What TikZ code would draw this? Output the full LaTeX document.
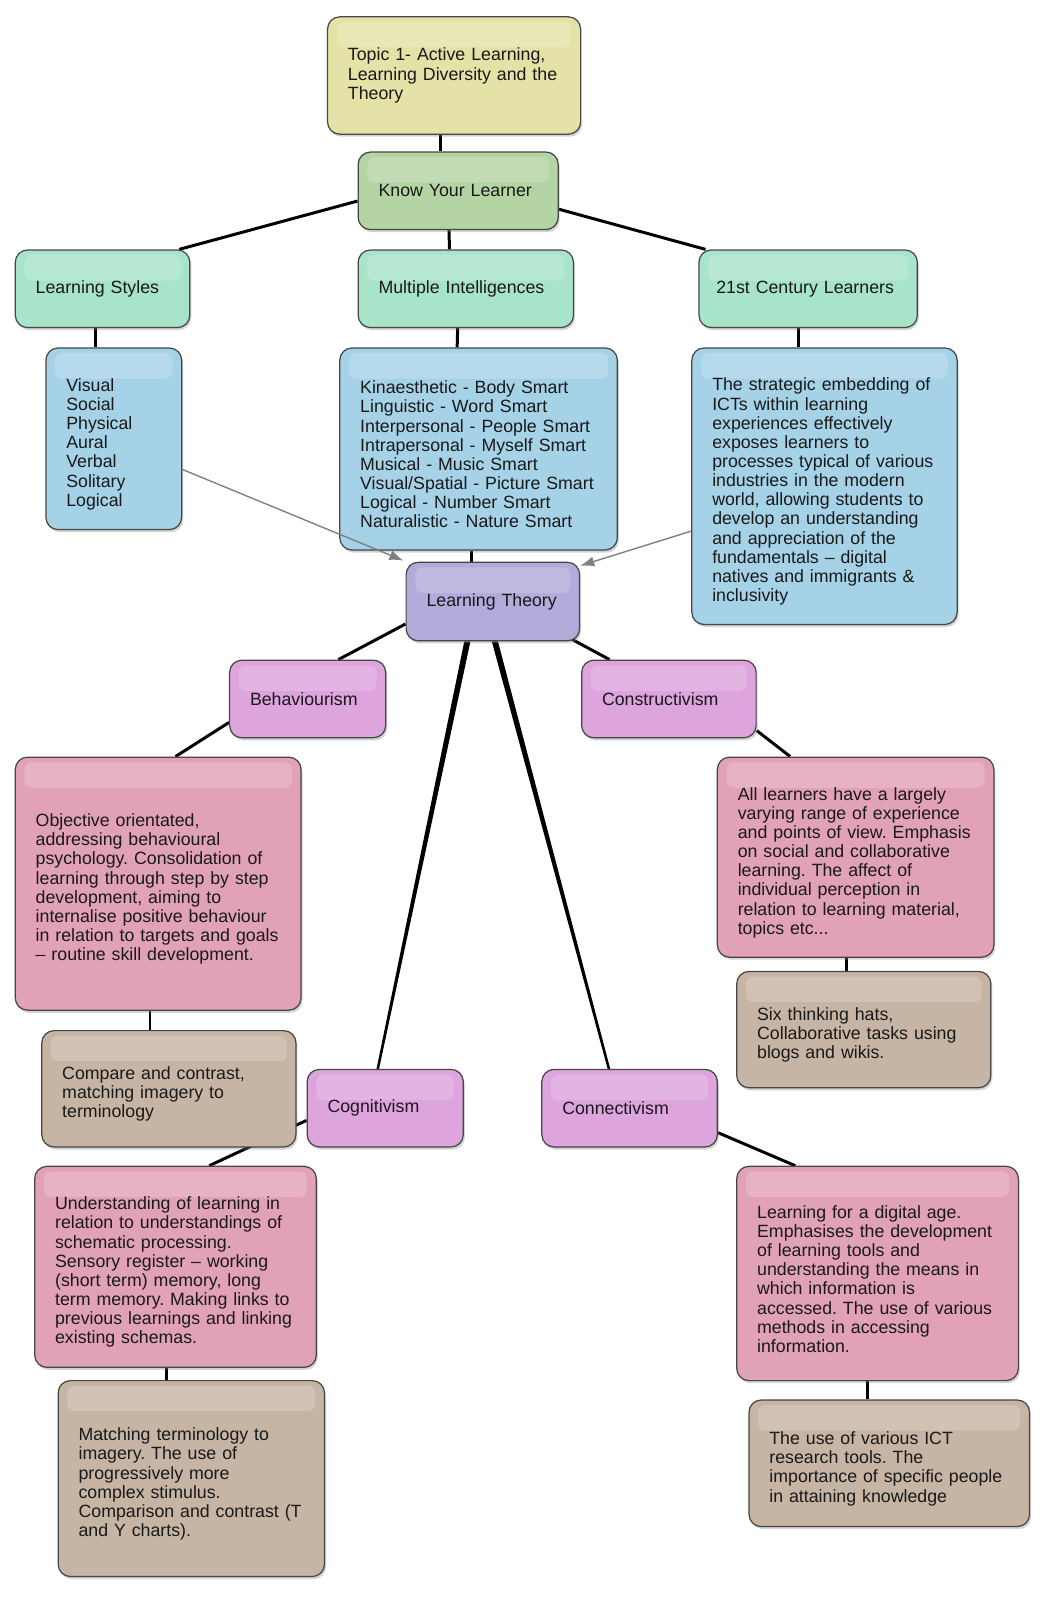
\documentclass[tikz,border=0pt]{standalone}
\usepackage{fontspec}
\setmainfont{Liberation Sans}
\usetikzlibrary{arrows.meta,calc,shadows,backgrounds}
\usepackage{xcolor}

\newlength{\pxl}
\setlength{\pxl}{0.020408cm}
\frenchspacing

\definecolor{topicyellow}{HTML}{E4E2A6}
\definecolor{knowgreen}{HTML}{B4D4A4}
\definecolor{mint}{HTML}{A8E4CA}
\definecolor{skyblue}{HTML}{A6D2E8}
\definecolor{lavender}{HTML}{B3ACDA}
\definecolor{orchid}{HTML}{DDA4DE}
\definecolor{rose}{HTML}{E2A2B6}
\definecolor{tan}{HTML}{C6B5A5}

\begin{document}
\begin{tikzpicture}[x=0.020408cm,y=-0.020408cm,
        box/.style={draw=gray!55!black,line width=0.7pt,rounded corners=12\pxl,align=left,
            inner xsep=20\pxl,inner ysep=0pt,font=\fontsize{10.1}{10.9}\selectfont\frenchspacing,text=black!90,
            drop shadow={shadow xshift=1.5\pxl,shadow yshift=-2.5\pxl,opacity=0.35},
            path picture={\fill[white,opacity=0.18,rounded corners=7\pxl]
                ([xshift=9\pxl,yshift=-5\pxl]path picture bounding box.north west) rectangle
                ([xshift=-9\pxl,yshift=-30\pxl]path picture bounding box.north east);}},
        lowered/.style={execute at begin node={\rule{0pt}{13.5pt}}},
        link/.style={line width=1.7pt},
        ref/.style={draw=gray,line width=0.8pt,-{Latex[length=8pt,width=5.8pt]}}]
        \useasboundingbox (0,0) rectangle (1025,1568);

        % top of the map
        \node[box,fill=topicyellow,text width=208\pxl,minimum height=115\pxl] (topic) at (445,74) {Topic 1- Active Learning,\\Learning Diversity and the\\Theory};
        \node[box,fill=knowgreen,text width=156\pxl,minimum height=76\pxl] (know) at (449,187) {Know Your Learner};

        \node[box,fill=mint,text width=131\pxl,minimum height=76\pxl] (ls) at (100.5,283) {Learning Styles};
        \node[box,fill=mint,text width=171\pxl,minimum height=76\pxl] (mi) at (456.5,283) {Multiple Intelligences};
        \node[box,fill=mint,text width=180\pxl,inner xsep=17\pxl,minimum height=76\pxl] (c21) at (792,283) {21st Century Learners};

        \node[box,lowered,fill=skyblue,text width=93\pxl,minimum height=178\pxl] (lsbox) at (111.5,430) {Visual\\Social\\Physical\\Aural\\Verbal\\Solitary\\Logical};
        \node[box,lowered,fill=skyblue,text width=232\pxl,minimum height=198\pxl] (mibox) at (469,440) {Kinaesthetic - Body Smart\\Linguistic - Word Smart\\Interpersonal - People Smart\\Intrapersonal - Myself Smart\\Musical - Music Smart\\Visual/Spatial - Picture Smart\\Logical - Number Smart\\Naturalistic - Nature Smart};
        \node[box,lowered,fill=skyblue,text width=220\pxl,minimum height=271\pxl] (c21box) at (808,476.5) {The strategic embedding of\\ICTs within learning\\experiences effectively\\exposes learners to\\processes typical of various\\industries in the modern\\world, allowing students to\\develop an understanding\\and appreciation of the\\fundamentals – digital\\natives and immigrants \&\\inclusivity};

        % learning theory
        \node[box,fill=lavender,text width=130\pxl,minimum height=77\pxl] (lt) at (483,589.5) {Learning Theory};

        \node[box,fill=orchid,text width=113\pxl,minimum height=76\pxl] (beh) at (301.5,685) {Behaviourism};
        \node[box,fill=orchid,text width=131\pxl,minimum height=76\pxl] (con) at (655.5,685) {Constructivism};
        \node[box,fill=orchid,text width=113\pxl,minimum height=76\pxl] (cog) at (377.5,1086) {Cognitivism};
        \node[box,fill=orchid,text width=132\pxl,minimum height=76\pxl] (conn) at (617,1086) {Connectivism};

        \node[box,lowered,fill=rose,text width=240\pxl,minimum height=248\pxl] (behbox) at (155,866) {Objective orientated,\\addressing behavioural\\psychology. Consolidation of\\learning through step by step\\development, aiming to\\internalise positive behaviour\\in relation to targets and goals\\– routine skill development.};
        \node[box,lowered,fill=tan,text width=209\pxl,minimum height=114\pxl] (behact) at (165.5,1067) {Compare and contrast,\\matching imagery to\\terminology};

        \node[box,lowered,fill=rose,text width=231\pxl,minimum height=196\pxl] (conbox) at (838.5,840) {All learners have a largely\\varying range of experience\\and points of view. Emphasis\\on social and collaborative\\learning. The affect of\\individual perception in\\relation to learning material,\\topics etc...};
        \node[box,lowered,fill=tan,text width=209\pxl,minimum height=114\pxl] (conact) at (846.5,1009) {Six thinking hats,\\Collaborative tasks using\\blogs and wikis.};

        \node[box,lowered,fill=rose,text width=236\pxl,minimum height=197\pxl] (cogbox) at (172,1241.5) {Understanding of learning in\\relation to understandings of\\schematic processing.\\Sensory register – working\\(short term) memory, long\\term memory. Making links to\\previous learnings and linking\\existing schemas.};
        \node[box,lowered,fill=tan,text width=221\pxl,minimum height=192\pxl] (cogact) at (187.5,1449) {Matching terminology to\\imagery. The use of\\progressively more\\complex stimulus.\\Comparison and contrast (T\\and Y charts).};

        \node[box,lowered,fill=rose,text width=236\pxl,minimum height=210\pxl] (connbox) at (860,1248) {Learning for a digital age.\\Emphasises the development\\of learning tools and\\understanding the means in\\which information is\\accessed. The use of various\\methods in accessing\\information.};
        \node[box,lowered,fill=tan,text width=235\pxl,minimum height=124\pxl] (connact) at (871.5,1434) {The use of various ICT\\research tools. The\\importance of specific people\\in attaining knowledge};

        % connectors
        \begin{scope}[on background layer]
        \draw[link] ($(topic.south)+(-13,0)$) -- ($(know.north)+(-17,0)$);
        \draw[link] ($(know.west)+(0,10)$) -- ($(ls.north east)+(-11,0)$);
        \draw[link] ($(know.south)+(-9,0)$) -- ($(mi.north)+(-16,0)$);
        \draw[link] ($(know.east)+(0,18)$) -- ($(c21.north west)+(7,0)$);
        \draw[link] ($(ls.south)+(-7,0)$) -- ($(lsbox.north)+(-18,0)$);
        \draw[link] ($(mi.south)+(-8,0)$) -- ($(mibox.north)+(-21,0)$);
        \draw[link] ($(c21.south)+(-9,0)$) -- ($(c21box.north)+(-25,0)$);
        \draw[link] ($(mibox.south)+(-7,0)$) -- ($(lt.north)+(-21,0)$);
        \draw[link] ($(lt.west)+(0,22)$) -- ($(beh.north east)+(-47,0)$);
        \draw[link] ($(lt.south east)+(-8,-2)$) -- ($(con.north west)+(28,0)$);
        \fill ($(lt.south)+(-28,0)$) -- ($(lt.south)+(-22,0)$) -- ($(cog.north)+(-6,0)$) -- ($(cog.north)+(-8.5,0)$) -- cycle;
        \fill ($(lt.south)+(-1,0)$) -- ($(lt.south)+(5,0)$) -- ($(conn.north)+(-19,0)$) -- ($(conn.north)+(-21.5,0)$) -- cycle;
        \draw[link] ($(beh.west)+(0,23)$) -- ($(behbox.north)+(17,0)$);
        \draw[link] ($(behbox.south)+(-8,0)$) -- ($(behact.north)+(-18.5,0)$);
        \draw[link] ($(cog.west)+(0,12)$) -- ($(cogbox.north)+(33,0)$);
        \draw[link] ($(cogbox.south)+(-9,0)$) -- ($(cogact.north)+(-24.5,0)$);
        \draw[link] ($(con.east)+(0,31)$) -- ($(conbox.north west)+(72,0)$);
        \draw[link] ($(conbox.south)+(-8.5,0)$) -- ($(conact.north)+(-16.5,0)$);
        \draw[link] ($(conn.east)+(0,24)$) -- ($(connbox.north west)+(58,0)$);
        \draw[link] ($(connbox.south)+(-10,0)$) -- ($(connact.north)+(-21.5,0)$);
        \end{scope}

        \draw[ref,gray] ($(lsbox.east)+(0,30)$) -- ($(lt.north west)+(-2,-1)$);
        \draw[ref,gray] ($(c21box.west)+(0,44)$) -- ($(lt.north east)+(0,4)$);
\end{tikzpicture}
\end{document}
